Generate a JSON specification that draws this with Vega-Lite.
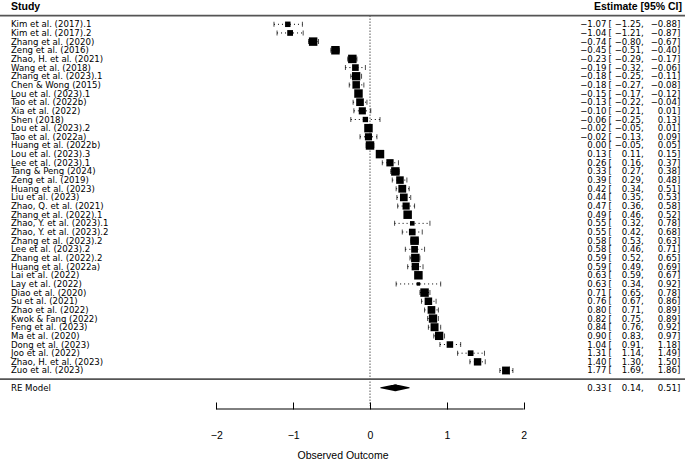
{
  "$schema": "https://vega.github.io/schema/vega-lite/v6.json",
  "width": 685,
  "height": 409,
  "autosize": {"type": "none"},
  "padding": {"left": 0, "top": 0, "right": 0, "bottom": 53},
  "background": "white",
  "config": {"view": {"stroke": null}, "font": "Liberation Sans"},
  "datasets": {
    "all": [
      {"kind": "study", "row": 1, "study": "Kim et al. (2017).1", "est": -1.07, "lo": -1.25, "hi": -0.88, "w": 10.6},
      {"kind": "study", "row": 2, "study": "Kim et al. (2017).2", "est": -1.04, "lo": -1.21, "hi": -0.87, "w": 11.5},
      {"kind": "study", "row": 3, "study": "Zhang et al. (2020)", "est": -0.74, "lo": -0.80, "hi": -0.67, "w": 30.2},
      {"kind": "study", "row": 4, "study": "Zeng et al. (2016)", "est": -0.45, "lo": -0.51, "hi": -0.40, "w": 35.6},
      {"kind": "study", "row": 5, "study": "Zhao, H. et al. (2021)", "est": -0.23, "lo": -0.29, "hi": -0.17, "w": 32.7},
      {"kind": "study", "row": 6, "study": "Wang et al. (2018)", "est": -0.19, "lo": -0.32, "hi": -0.06, "w": 15.1},
      {"kind": "study", "row": 7, "study": "Zhang et al. (2023).1", "est": -0.18, "lo": -0.25, "hi": -0.11, "w": 28.0},
      {"kind": "study", "row": 8, "study": "Chen & Wong (2015)", "est": -0.18, "lo": -0.27, "hi": -0.08, "w": 20.6},
      {"kind": "study", "row": 9, "study": "Lou et al. (2023).1", "est": -0.15, "lo": -0.17, "hi": -0.12, "w": 78.4},
      {"kind": "study", "row": 10, "study": "Tao et al. (2022b)", "est": -0.13, "lo": -0.22, "hi": -0.04, "w": 21.8},
      {"kind": "study", "row": 11, "study": "Xia et al. (2022)", "est": -0.10, "lo": -0.21, "hi": 0.01, "w": 17.8},
      {"kind": "study", "row": 12, "study": "Shen (2018)", "est": -0.06, "lo": -0.25, "hi": 0.13, "w": 10.3},
      {"kind": "study", "row": 13, "study": "Lou et al. (2023).2", "est": -0.02, "lo": -0.05, "hi": 0.01, "w": 65.3},
      {"kind": "study", "row": 14, "study": "Tao et al. (2022a)", "est": -0.02, "lo": -0.13, "hi": 0.09, "w": 17.8},
      {"kind": "study", "row": 15, "study": "Huang et al. (2022b)", "est": 0.00, "lo": -0.05, "hi": 0.05, "w": 39.2},
      {"kind": "study", "row": 16, "study": "Lou et al. (2023).3", "est": 0.13, "lo": 0.11, "hi": 0.15, "w": 98.0},
      {"kind": "study", "row": 17, "study": "Lee et al. (2023).1", "est": 0.26, "lo": 0.16, "hi": 0.37, "w": 18.7},
      {"kind": "study", "row": 18, "study": "Tang & Peng (2024)", "est": 0.33, "lo": 0.27, "hi": 0.38, "w": 35.6},
      {"kind": "study", "row": 19, "study": "Zeng et al. (2019)", "est": 0.39, "lo": 0.29, "hi": 0.48, "w": 20.6},
      {"kind": "study", "row": 20, "study": "Huang et al. (2023)", "est": 0.42, "lo": 0.34, "hi": 0.51, "w": 23.1},
      {"kind": "study", "row": 21, "study": "Liu et al. (2023)", "est": 0.44, "lo": 0.35, "hi": 0.53, "w": 21.8},
      {"kind": "study", "row": 22, "study": "Zhao, Q. et al. (2021)", "est": 0.47, "lo": 0.36, "hi": 0.58, "w": 17.8},
      {"kind": "study", "row": 23, "study": "Zhang et al. (2022).1", "est": 0.49, "lo": 0.46, "hi": 0.52, "w": 65.3},
      {"kind": "study", "row": 24, "study": "Zhao, Y. et al. (2023).1", "est": 0.55, "lo": 0.32, "hi": 0.78, "w": 8.5},
      {"kind": "study", "row": 25, "study": "Zhao, Y. et al. (2023).2", "est": 0.55, "lo": 0.42, "hi": 0.68, "w": 15.1},
      {"kind": "study", "row": 26, "study": "Zhang et al. (2023).2", "est": 0.58, "lo": 0.53, "hi": 0.63, "w": 39.2},
      {"kind": "study", "row": 27, "study": "Lee et al. (2023).2", "est": 0.58, "lo": 0.46, "hi": 0.71, "w": 15.7},
      {"kind": "study", "row": 28, "study": "Zhang et al. (2022).2", "est": 0.59, "lo": 0.52, "hi": 0.65, "w": 30.2},
      {"kind": "study", "row": 29, "study": "Huang et al. (2022a)", "est": 0.59, "lo": 0.49, "hi": 0.69, "w": 19.6},
      {"kind": "study", "row": 30, "study": "Lai et al. (2022)", "est": 0.63, "lo": 0.59, "hi": 0.67, "w": 49.0},
      {"kind": "study", "row": 31, "study": "Lay et al. (2022)", "est": 0.63, "lo": 0.34, "hi": 0.92, "w": 6.8},
      {"kind": "study", "row": 32, "study": "Diao et al. (2020)", "est": 0.71, "lo": 0.65, "hi": 0.78, "w": 30.2},
      {"kind": "study", "row": 33, "study": "Su et al. (2021)", "est": 0.76, "lo": 0.67, "hi": 0.86, "w": 20.6},
      {"kind": "study", "row": 34, "study": "Zhao et al. (2022)", "est": 0.80, "lo": 0.71, "hi": 0.89, "w": 21.8},
      {"kind": "study", "row": 35, "study": "Kwok & Fang (2022)", "est": 0.82, "lo": 0.75, "hi": 0.89, "w": 28.0},
      {"kind": "study", "row": 36, "study": "Feng et al. (2023)", "est": 0.84, "lo": 0.76, "hi": 0.92, "w": 24.5},
      {"kind": "study", "row": 37, "study": "Ma et al. (2020)", "est": 0.90, "lo": 0.83, "hi": 0.97, "w": 28.0},
      {"kind": "study", "row": 38, "study": "Dong et al. (2023)", "est": 1.04, "lo": 0.91, "hi": 1.18, "w": 14.5},
      {"kind": "study", "row": 39, "study": "Joo et al. (2022)", "est": 1.31, "lo": 1.14, "hi": 1.49, "w": 11.2},
      {"kind": "study", "row": 40, "study": "Zhao, H. et al. (2023)", "est": 1.40, "lo": 1.30, "hi": 1.50, "w": 19.6},
      {"kind": "study", "row": 41, "study": "Zuo et al. (2023)", "est": 1.77, "lo": 1.69, "hi": 1.86, "w": 23.1},
      {"kind": "summary", "row": 43, "study": "RE Model", "est": 0.33, "lo": 0.14, "hi": 0.51}
    ],
    "one": [{}]
  },
  "data": {"name": "all"},
  "resolve": {"scale": {"size": "independent"}},
  "layer": [
    {
      "transform": [{"filter": "datum.kind === 'study'"}],
      "mark": {"type": "rule", "color": "black", "strokeWidth": 1, "strokeDash": [1, 3]},
      "encoding": {
        "x": {
          "field": "lo", "type": "quantitative",
          "scale": {"domain": [-4.816, 4.1], "nice": false, "zero": false},
          "title": "Observed Outcome",
          "axis": {
            "values": [-2, -1, 0, 1, 2], "format": "d", "domain": false, "grid": false,
            "tickSize": -7, "tickColor": "black", "tickWidth": 1,
            "labelFont": "Liberation Sans", "labelFontSize": 10.5, "labelColor": "black",
            "labelPadding": 28, "labelFlush": false, "labelOverlap": false,
            "titleFont": "Liberation Sans", "titleFontSize": 10.5, "titleFontWeight": "normal",
            "titleColor": "black", "titlePadding": 10
          }
        },
        "x2": {"field": "hi"},
        "y": {
          "field": "row", "type": "quantitative",
          "scale": {"domain": [-1.808, 45.449], "reverse": true, "nice": false, "zero": false},
          "axis": null
        }
      }
    },
    {
      "data": {"name": "one"},
      "mark": {"type": "rule", "color": "black", "strokeWidth": 1, "strokeDash": [1, 2]},
      "encoding": {
        "x": {"datum": 0, "type": "quantitative"},
        "y": {"datum": 0, "type": "quantitative"},
        "y2": {"datum": 45.1}
      }
    },
    {
      "data": {"name": "one"},
      "mark": {"type": "rule", "color": "#555555", "strokeWidth": 1.6},
      "encoding": {"y": {"datum": 0, "type": "quantitative"}}
    },
    {
      "data": {"name": "one"},
      "mark": {"type": "rule", "color": "#555555", "strokeWidth": 1.6},
      "encoding": {"y": {"datum": 42, "type": "quantitative"}}
    },
    {
      "data": {"name": "one"},
      "mark": {"type": "rule", "color": "black", "strokeWidth": 1},
      "encoding": {
        "x": {"datum": -2, "type": "quantitative"},
        "x2": {"datum": 2},
        "y": {"datum": 45.449, "type": "quantitative"}
      }
    },
    {
      "transform": [{"filter": "datum.kind === 'study'"}],
      "mark": {"type": "tick", "orient": "vertical", "color": "black", "size": 5, "thickness": 1},
      "encoding": {
        "x": {"field": "lo", "type": "quantitative"},
        "y": {"field": "row", "type": "quantitative"}
      }
    },
    {
      "transform": [{"filter": "datum.kind === 'study'"}],
      "mark": {"type": "tick", "orient": "vertical", "color": "black", "size": 5, "thickness": 1},
      "encoding": {
        "x": {"field": "hi", "type": "quantitative"},
        "y": {"field": "row", "type": "quantitative"}
      }
    },
    {
      "transform": [{"filter": "datum.kind === 'study'"}],
      "mark": {"type": "point", "shape": "square", "filled": true, "color": "black", "opacity": 1},
      "encoding": {
        "x": {"field": "est", "type": "quantitative"},
        "y": {"field": "row", "type": "quantitative"},
        "size": {"field": "w", "type": "quantitative",
          "scale": {"type": "log", "domain": [6.8, 30], "range": [12, 72], "clamp": true},
          "legend": null}
      }
    },
    {
      "transform": [
        {"filter": "datum.kind === 'summary'"},
        {"fold": ["lo", "est", "hi"], "as": ["key", "value"]}
      ],
      "mark": {"type": "trail", "color": "black"},
      "encoding": {
        "x": {"field": "value", "type": "quantitative"},
        "y": {"field": "row", "type": "quantitative"},
        "order": {"field": "value", "type": "quantitative"},
        "size": {"field": "key", "type": "nominal",
          "scale": {"type": "ordinal", "domain": ["lo", "est", "hi"], "range": [0, 7, 0]},
          "legend": null}
      }
    },
    {
      "data": {"name": "one"},
      "mark": {"type": "text", "text": "Study", "align": "left", "baseline": "middle", "font": "Liberation Sans", "fontWeight": "bold", "fontSize": 10.5, "color": "black"},
      "encoding": {"x": {"datum": -4.673, "type": "quantitative"}, "y": {"datum": -1, "type": "quantitative"}}
    },
    {
      "data": {"name": "one"},
      "mark": {"type": "text", "text": "Estimate [95% CI]", "align": "right", "baseline": "middle", "font": "Liberation Sans", "fontWeight": "bold", "fontSize": 10.5, "color": "black"},
      "encoding": {"x": {"datum": 4.061, "type": "quantitative"}, "y": {"datum": -1, "type": "quantitative"}}
    },
    {
      "mark": {"type": "text", "align": "left", "baseline": "middle", "font": "DejaVu Sans", "fontSize": 8.6, "color": "black"},
      "encoding": {
        "x": {"datum": -4.673, "type": "quantitative"},
        "y": {"field": "row", "type": "quantitative"},
        "text": {"field": "study"}
      }
    },
    {
      "mark": {"type": "text", "align": "right", "baseline": "middle", "font": "DejaVu Sans", "fontSize": 8.6, "color": "black"},
      "encoding": {
        "x": {"datum": 3.078, "type": "quantitative"},
        "y": {"field": "row", "type": "quantitative"},
        "text": {"field": "est", "format": ".2f"}
      }
    },
    {
      "mark": {"type": "text", "text": "[", "align": "left", "baseline": "middle", "font": "DejaVu Sans", "fontSize": 8.6, "color": "black"},
      "encoding": {
        "x": {"datum": 3.104, "type": "quantitative"},
        "y": {"field": "row", "type": "quantitative"}
      }
    },
    {
      "mark": {"type": "text", "align": "right", "baseline": "middle", "font": "DejaVu Sans", "fontSize": 8.6, "color": "black"},
      "encoding": {
        "x": {"datum": 3.527, "type": "quantitative"},
        "y": {"field": "row", "type": "quantitative"},
        "text": {"field": "lo", "format": ".2f"}
      }
    },
    {
      "mark": {"type": "text", "text": ",", "align": "left", "baseline": "middle", "font": "DejaVu Sans", "fontSize": 8.6, "color": "black"},
      "encoding": {
        "x": {"datum": 3.527, "type": "quantitative"},
        "y": {"field": "row", "type": "quantitative"}
      }
    },
    {
      "mark": {"type": "text", "align": "right", "baseline": "middle", "font": "DejaVu Sans", "fontSize": 8.6, "color": "black"},
      "encoding": {
        "x": {"datum": 3.996, "type": "quantitative"},
        "y": {"field": "row", "type": "quantitative"},
        "text": {"field": "hi", "format": ".2f"}
      }
    },
    {
      "mark": {"type": "text", "text": "]", "align": "left", "baseline": "middle", "font": "DejaVu Sans", "fontSize": 8.6, "color": "black"},
      "encoding": {
        "x": {"datum": 3.996, "type": "quantitative"},
        "y": {"field": "row", "type": "quantitative"}
      }
    }
  ]
}
